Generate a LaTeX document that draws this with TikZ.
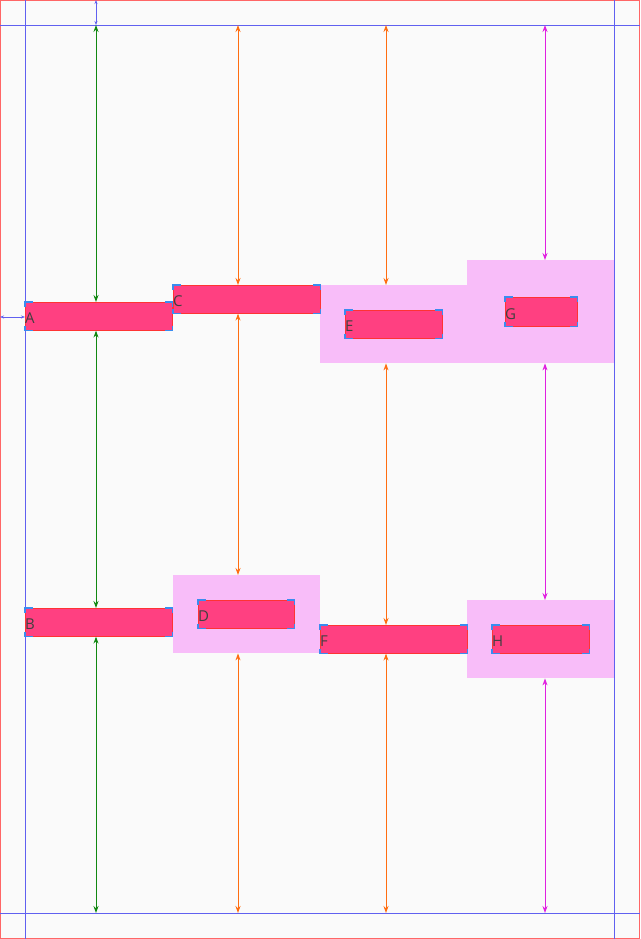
\documentclass[tikz,border=0pt]{standalone}
\usepackage{fontspec}
\setmainfont{Open Sans}
\usetikzlibrary{arrows.meta}
\definecolor{bg}{HTML}{FAFAFA}
\definecolor{pinkbox}{HTML}{F8BDF9}
\definecolor{viewred}{HTML}{FF4081}
\definecolor{guide}{HTML}{6060F0}
\definecolor{grn}{HTML}{118811}
\definecolor{org}{HTML}{FF6D10}
\definecolor{mag}{HTML}{E020E0}
\definecolor{corner}{HTML}{3A8CF0}
\newcommand{\viewcorners}[1]{%
  \draw[corner,line width=1.2pt] ([yshift=-5pt]#1.north west) -- (#1.north west) -- ([xshift=8pt]#1.north west);
  \draw[corner,line width=1.2pt] ([yshift=-5pt]#1.north east) -- (#1.north east) -- ([xshift=-8pt]#1.north east);
  \draw[corner,line width=1.2pt] ([yshift=5pt]#1.south west) -- (#1.south west) -- ([xshift=8pt]#1.south west);
  \draw[corner,line width=1.2pt] ([yshift=5pt]#1.south east) -- (#1.south east) -- ([xshift=-8pt]#1.south east);
  \node[anchor=west,inner sep=0pt,font=\fontsize{15}{15}\selectfont,text=black!75] at ([xshift=0pt,yshift=-2pt]#1.west) {#1};}
\begin{document}
\begin{tikzpicture}[x=1pt,y=-1pt,
  view/.style={fill=viewred,draw=red!80,line width=0.6pt,anchor=north west,inner sep=0pt},
  grp/.style={fill=pinkbox,draw=none,anchor=north west,inner sep=0pt},
  dim/.style={<->,>={Stealth[length=7pt,width=5pt]},line width=0.9pt},
  small/.style={<->,>={Stealth[length=4pt,width=3pt]},guide,line width=0.6pt}]
\useasboundingbox (0,0) rectangle (640,939);
\fill[bg] (0,0) rectangle (640,939);
\draw[red!60,line width=1pt] (0.5,0.5) rectangle (639.5,938.5);
% guides
\draw[guide,line width=0.6pt] (25,0) -- (25,939) (614,0) -- (614,939) (0,25) -- (640,25) (0,913) -- (640,913);
\coordinate (top) at (0,25);
\coordinate (bot) at (0,913);
% groups
\node[grp,minimum width=147pt,minimum height=78pt] (gE) at (320,285) {};
\node[grp,minimum width=147pt,minimum height=103pt] (gG) at (467,260) {};
\node[grp,minimum width=147pt,minimum height=78pt] (gD) at (173,575) {};
\node[grp,minimum width=147pt,minimum height=78pt] (gH) at (467,600) {};
% views
\node[view,minimum width=147pt,minimum height=28pt] (A) at (25,302) {};
\node[view,minimum width=147pt,minimum height=28pt] (C) at (173,285) {};
\node[view,minimum width=97pt,minimum height=28pt] (E) at (345,310) {};
\node[view,minimum width=72pt,minimum height=29pt] (G) at (505,297) {};
\node[view,minimum width=147pt,minimum height=28pt] (B) at (25,608) {};
\node[view,minimum width=96pt,minimum height=28pt] (D) at (198,600) {};
\node[view,minimum width=147pt,minimum height=28pt] (F) at (320,625) {};
\node[view,minimum width=97pt,minimum height=28pt] (H) at (492,625) {};
\foreach \v in {A,B,C,D,E,F,G,H}{\viewcorners{\v}}
% small margin arrows
\coordinate (tA) at (96,0);
\coordinate (lA) at (0,317);
\draw[small] (tA) -- (tA |- top);
\draw[small] (lA) -- (lA -| A.west);
% green
\draw[dim,grn] (96,0 |- top) -- (96,0 |- A.north);
\draw[dim,grn] (96,0 |- A.south) -- (96,0 |- B.north);
\draw[dim,grn] (96,0 |- B.south) -- (96,0 |- bot);
% orange 1
\draw[dim,org] (238,0 |- top) -- (238,0 |- C.north);
\draw[dim,org] (238,0 |- C.south) -- (238,0 |- gD.north);
\draw[dim,org] (238,0 |- gD.south) -- (238,0 |- bot);
% orange 2
\draw[dim,org] (386,0 |- top) -- (386,0 |- gE.north);
\draw[dim,org] (386,0 |- gE.south) -- (386,0 |- F.north);
\draw[dim,org] (386,0 |- F.south) -- (386,0 |- bot);
% magenta
\draw[dim,mag] (545,0 |- top) -- (545,0 |- gG.north);
\draw[dim,mag] (545,0 |- gG.south) -- (545,0 |- gH.north);
\draw[dim,mag] (545,0 |- gH.south) -- (545,0 |- bot);
\end{tikzpicture}
\end{document}
